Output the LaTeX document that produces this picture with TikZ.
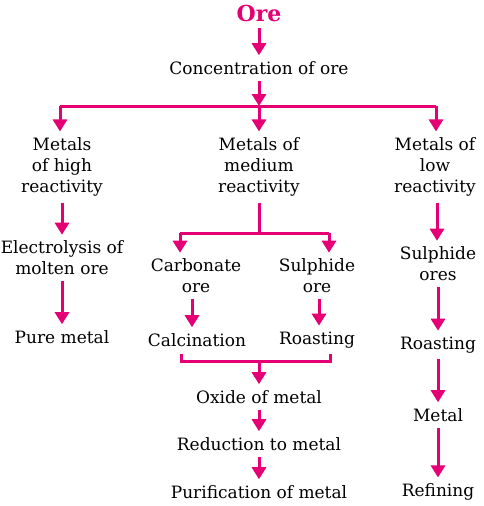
\documentclass[tikz,border=0pt]{standalone}
\usepackage{fontspec}
\setmainfont{DejaVu Serif}
\usepackage{tikz}
\usetikzlibrary{arrows.meta, positioning}
\definecolor{orepink}{RGB}{228, 0, 116}

\begin{document}
\begin{tikzpicture}[
        x=1pt, y=-1pt,
        stage/.style={align=center, font=\fontsize{17}{21}\selectfont,
                      inner xsep=1pt, inner ysep=6pt},
        flow/.style={-{Triangle[length=12pt, width=14pt]}, line width=3pt,
                     orepink},
        link/.style={line width=3pt, orepink},
      ]
        \useasboundingbox (0,0) rectangle (484,506);

        \node[stage, font=\fontsize{22}{26}\selectfont\bfseries, text=orepink]
          (ore) at (259,13) {Ore};
        \node[stage] (conc) at (259,68) {Concentration of ore};

        % three reactivity branches
        \node[stage] (hi) at (62,167) {Metals\\of high\\reactivity};
        \node[stage] (med) at (259,167) {Metals of\\medium\\reactivity};
        \node[stage] (lo) at (435,167) {Metals of\\low\\reactivity};

        % high reactivity
        \node[stage] (elec) at (62,258) {Electrolysis of\\molten ore};
        \node[stage] (pure) at (62,337) {Pure metal};

        % medium reactivity
        \node[stage] (carb) at (196,276) {Carbonate\\ore};
        \node[stage] (sulph) at (317,276) {Sulphide\\ore};
        \node[stage] (calc) at (197,340) {Calcination};
        \node[stage] (roast) at (317,340) {Roasting};
        \node[stage] (oxide) at (259,397) {Oxide of metal};
        \node[stage] (reduce) at (259,444) {Reduction to metal};
        \node[stage] (purify) at (259,492) {Purification of metal};

        % low reactivity
        \node[stage] (sulore) at (438,264) {Sulphide\\ores};
        \node[stage] (roastlo) at (438,345) {Roasting};
        \node[stage] (metal) at (438,415) {Metal};
        \node[stage] (refine) at (438,492) {Refining};

        \coordinate (split) at (259,106);
        \coordinate (splitl) at (60,106);
        \coordinate (splitr) at (436,106);
        \coordinate (fork) at (259,233);
        \coordinate (forkl) at (180,233);
        \coordinate (forkr) at (329,233);
        \coordinate (bl) at (181,354);
        \coordinate (br) at (330,354);
        \coordinate (join) at (259,361);

        \draw[flow] (ore) -- (conc);
        \draw[flow] (conc) -- (split);
        \draw[link] (splitl) -- (splitr);
        \draw[flow] (splitl) -- (splitl |- hi.north);
        \draw[flow] (split) -- (med);
        \draw[flow] (splitr) -- (splitr |- lo.north);

        \draw[flow] (hi) -- (elec);
        \draw[flow] (elec) -- (pure);

        \draw[link] (med) -- (fork);
        \draw[link] (forkl) -- (forkr);
        \draw[flow] (forkl) -- (forkl |- carb.north);
        \draw[flow] (forkr) -- (forkr |- sulph.north);
        \draw[flow] (carb.south -| 192,0) -- (calc.north -| 192,0);
        \draw[flow] (sulph.south -| 319,0) -- (roast.north -| 319,0);
        \draw[link] (bl) |- (join) -| (br);
        \draw[flow] (join) -- (oxide);
        \draw[flow] (oxide) -- (reduce);
        \draw[flow] (reduce) -- (purify);

        \draw[flow] (lo.south -| 437,0) -- (sulore.north -| 437,0);
        \draw[flow] (sulore) -- (roastlo);
        \draw[flow] (roastlo) -- (metal);
        \draw[flow] (metal) -- (refine);
      \end{tikzpicture}
\end{document}
